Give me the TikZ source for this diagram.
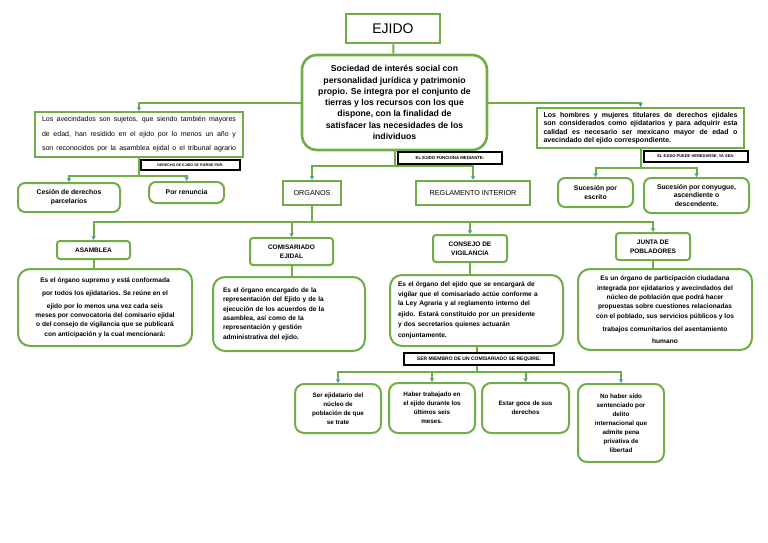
\documentclass[tikz,border=0pt]{standalone}
\usepackage{fontspec}
\setmainfont{Liberation Sans}
\usetikzlibrary{arrows.meta}
\definecolor{ejgreen}{RGB}{112,173,71}
\definecolor{ejteal}{RGB}{80,150,165}
% one justified line of a side note, spread to the full width
\newcommand{\fullline}[1]{{\parindent=0pt\parfillskip=0pt #1\par}}

\begin{document}
\begin{tikzpicture}[x=1pt, y=-1pt,
    box/.style={draw=ejgreen, line width=2pt, fill=white, inner sep=2pt, align=center,
      font=\fontsize{6.8}{8.6}\selectfont\bfseries},
    rbox/.style={box, rounded corners=7pt},
    head/.style={box, line width=2.6pt, font=\fontsize{7.2}{9}\selectfont},
    note/.style={box, text width=194pt, align=justify},
    organ/.style={rbox, rounded corners=3pt, font=\fontsize{6.5}{8.6}\selectfont\bfseries},
    dbox/.style={rbox, rounded corners=12pt, font=\fontsize{6.6}{9.4}\selectfont\bfseries},
    qbox/.style={rbox, rounded corners=9pt, font=\fontsize{6.3}{9}\selectfont\bfseries},
    tag/.style={draw=black, line width=1.1pt, fill=white, inner sep=0pt},
    link/.style={draw=ejgreen, line width=2pt},
    arr/.style={link, -{Stealth[length=4pt, width=4.5pt, color=ejteal]}}]
  \useasboundingbox (0,0) rectangle (768,543);

  % Title and definition
  \node[head, font=\fontsize{14}{16}\selectfont, minimum width=94pt, minimum height=29pt] (ejido) at (393,28.5) {EJIDO};
  \node[rbox, line width=2.6pt, rounded corners=15pt, minimum width=185pt, minimum height=95pt,
    font=\fontsize{8.7}{11.3}\selectfont\bfseries] (soc) at (394.5,102.5)
    {Sociedad de interés social con\\personalidad jurídica y patrimonio\\propio. Se integra por el conjunto de\\tierras y los recursos con los que\\dispone, con la finalidad de\\satisfacer las necesidades de los\\individuos};

  % Side notes
  \node[note, inner xsep=7pt, minimum height=45pt, font=\fontsize{7}{14.5}\selectfont] (avec) at (139,134.5)
    {\fullline{Los avecindados son sujetos, que siendo también mayores}
     \fullline{de edad, han residido en el ejido por lo menos un año y}
     \fullline{son reconocidos por la asamblea ejidal o el tribunal agrario}};
  \node[note, inner xsep=6.5pt, minimum height=40pt, font=\fontsize{7}{8.5}\selectfont\bfseries] (hombres) at (640.5,128)
    {\fullline{Los hombres y mujeres titulares de derechos ejidales}
     \fullline{son considerados como ejidatarios y para adquirir esta}
     \fullline{calidad es necesario ser mexicano mayor de edad o}
     {\parindent=0pt avecindado del ejido correspondiente.\par}};

  % Lost or inherited
  \node[rbox, minimum width=102pt, minimum height=29pt] (cesion) at (69,197.5) {Cesión de derechos\\parcelarios};
  \node[rbox, minimum width=75pt, minimum height=21pt] (renuncia) at (186.5,192.5) {Por renuncia};
  \node[rbox, minimum width=75pt, minimum height=29pt] (escrito) at (595.5,192.5) {Sucesión por\\escrito};
  \node[rbox, minimum width=105pt, minimum height=35pt] (conyugue) at (696.5,195.5) {Sucesión por conyugue,\\ascendiente o\\descendente.};

  % How it works
  \node[head, minimum width=58pt, minimum height=24pt] (organos) at (312,193) {ORGANOS};
  \node[head, minimum width=114pt, minimum height=24pt] (regla) at (473,193) {REGLAMENTO INTERIOR};

  % Organs
  \node[organ, minimum width=73pt, minimum height=18pt] (asam) at (93.5,250) {ASAMBLEA};
  \node[organ, minimum width=83pt, minimum height=27pt] (comi) at (291.5,251.5) {COMISARIADO\\EJIDAL};
  \node[organ, minimum width=74pt, minimum height=27pt] (cons) at (470,248.5) {CONSEJO DE\\VIGILANCIA};
  \node[organ, minimum width=74pt, minimum height=27pt] (junta) at (653,246.5) {JUNTA DE\\POBLADORES};

  \node[dbox, minimum width=174pt, minimum height=77pt] (asamd) at (105,307.5)
    {Es el órgano supremo y está conformada\\[3.5pt]por todos los ejidatarios. Se reúne en el\\[3.5pt]ejido por lo menos una vez cada seis\\meses por convocatoria del comisario ejidal\\o del consejo de vigilancia que se publicará\\con anticipación y la cual mencionará:};
  \node[dbox, text width=132pt, inner xsep=10pt, minimum height=74pt, align=left] (comid) at (289,314)
    {Es el órgano encargado de la\\representación del Ejido y de la\\ejecución de los acuerdos de la\\asamblea, así como de la\\representación y gestión\\administrativa del ejido.};
  \node[dbox, text width=157pt, inner xsep=8pt, minimum height=71pt, align=left] (consd) at (476.5,310.5)
    {Es el órgano del ejido que se encargará de\\vigilar que el comisariado actúe conforme a\\la Ley Agraria y al reglamento interno del\\[2pt]ejido. Estará constituido por un presidente\\y dos secretarios quienes actuarán\\[2pt]conjuntamente.};
  \node[dbox, minimum width=174pt, minimum height=81pt] (juntad) at (665,309.5)
    {Es un órgano de participación ciudadana\\integrada por ejidatarios y avecindados del\\núcleo de población que podrá hacer\\propuestas sobre cuestiones relacionadas\\con el poblado, sus servicios públicos y los\\[4pt]trabajos comunitarios del asentamiento\\[2pt]humano};

  % Requirements
  \node[qbox, minimum width=86pt, minimum height=49pt] (req1) at (338,408.5) {Ser ejidatario del\\núcleo de\\población de que\\se trate};
  \node[qbox, minimum width=86pt, minimum height=50pt] (req2) at (432,408) {Haber trabajado en\\el ejido durante los\\últimos seis\\meses.};
  \node[qbox, minimum width=87pt, minimum height=50pt] (req3) at (525.5,408) {Estar goce de sus\\derechos};
  \node[qbox, minimum width=86pt, minimum height=78pt] (req4) at (621,423) {No haber sido\\sentenciado por\\delito\\internacional que\\admite pena\\privativa de\\libertad};

  % Small captions
  \node[tag, minimum width=99pt, minimum height=10pt, font=\fontsize{3.6}{4}\selectfont\bfseries] (tLost) at (190.5,165) {DERECHO DE EJIDO SE PIERDE POR:};
  \node[tag, minimum width=104pt, minimum height=12pt, font=\fontsize{4.3}{5}\selectfont\bfseries] (tFun) at (450,158) {EL EJIDO FUNCIONA MEDIANTE:};
  \node[tag, minimum width=104pt, minimum height=11pt, font=\fontsize{4}{5}\selectfont\bfseries] (tHer) at (696,156.5) {EL EJIDO PUEDE HEREDARSE, YA SEA:};
  \node[tag, minimum width=150pt, minimum height=12pt, font=\fontsize{5}{6}\selectfont\bfseries] (tReq) at (479,359) {SER MIEMBRO DE UN COMISARIADO SE REQUIRE:};

  % Connectors
  \draw[link] (ejido) -- (soc);
  \draw[arr] (soc.west) -| (avec.north);
  \draw[arr] (soc.east) -| (hombres.north);

  \coordinate (jLost) at (139,176);
  \draw[link] (avec.south) -- (jLost);
  \foreach \n in {cesion,renuncia}
    \draw[arr] (jLost) -| (\n.north);

  \coordinate (jHer) at (640.5,168);
  \draw[link] (hombres.south) -- (jHer);
  \foreach \n in {escrito,conyugue}
    \draw[arr] (jHer) -| (\n.north);

  \coordinate (jFun) at (394.5,166);
  \draw[link] (soc.south) -- (jFun);
  \foreach \n in {organos,regla}
    \draw[arr] (jFun) -| (\n.north);

  \coordinate (jOrg) at (312,222);
  \draw[link] (organos.south) -- (jOrg);
  \foreach \n in {asam,comi,cons,junta}
    \draw[arr] (jOrg) -| (\n.north);
  \foreach \o/\d in {asam/asamd,comi/comid,cons/consd,junta/juntad}
    \draw[link] (\o.south) -- (\o.south |- \d.north);

  \coordinate (jReq) at (476.5,372);
  \draw[link] (consd.south) -- (consd.south |- tReq.north);
  \draw[link] (consd.south |- tReq.south) -- (jReq);
  \foreach \n in {req1,req2,req3,req4}
    \draw[arr] (jReq) -| (\n.north);
\end{tikzpicture}
\end{document}
